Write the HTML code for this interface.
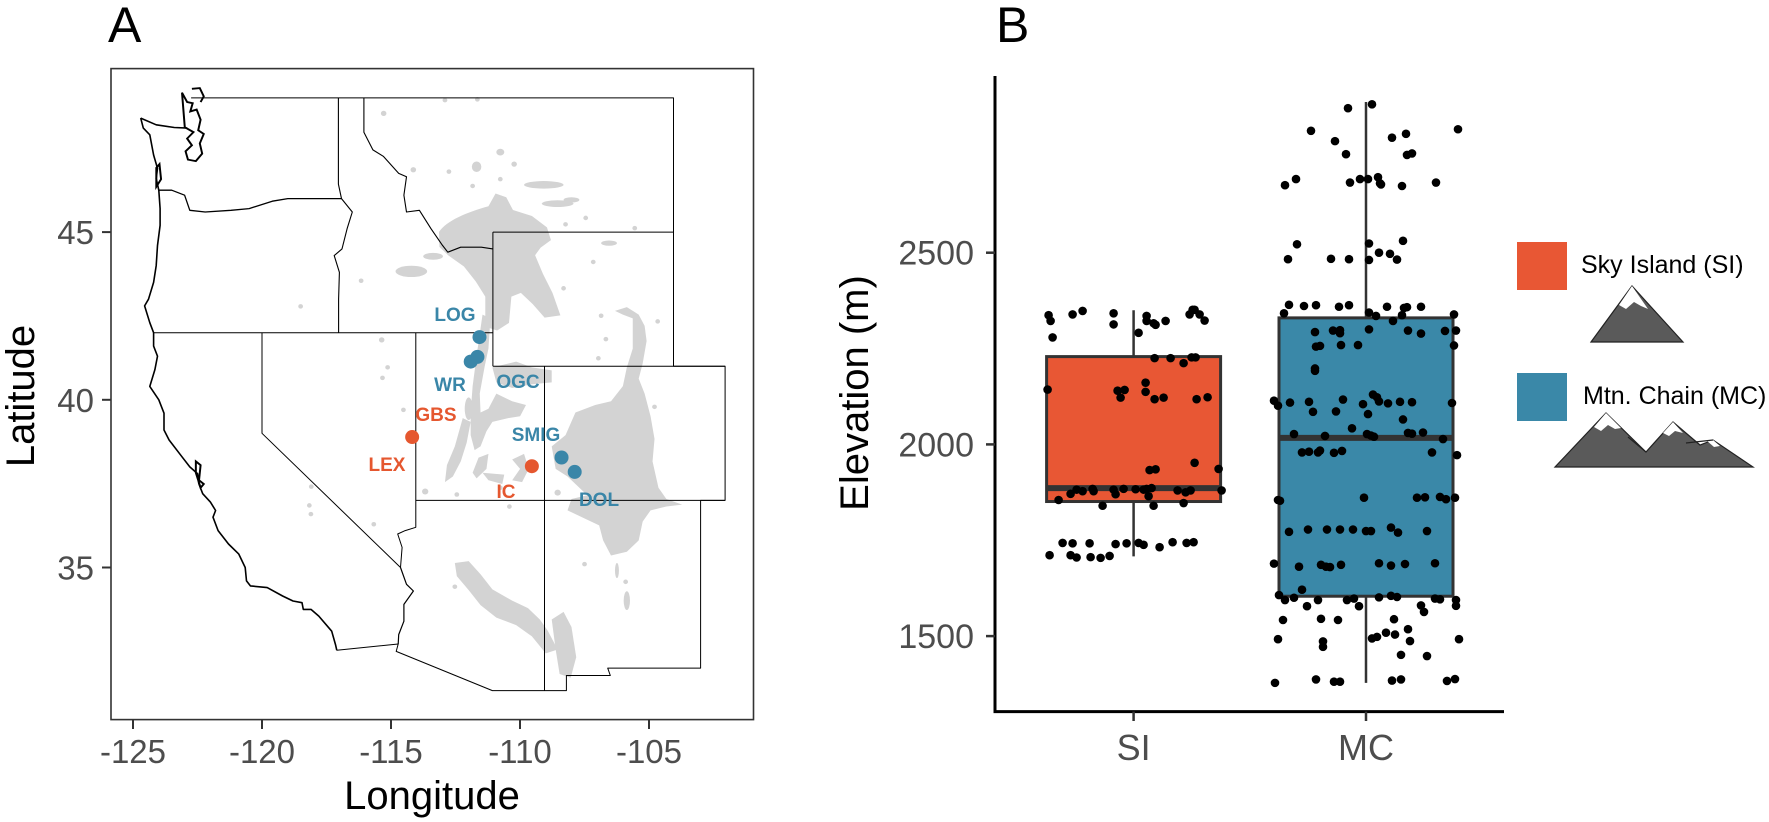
<!DOCTYPE html>
<html><head><meta charset="utf-8">
<style>
html,body{margin:0;padding:0;background:#fff;}
svg{display:block;font-family:"Liberation Sans",Arial,sans-serif;}
</style></head>
<body>
<svg id="fig" width="1769" height="822" viewBox="0 0 1769 822" xmlns="http://www.w3.org/2000/svg">
  <text x="108" y="42" font-size="50" fill="#000">A</text>
  <text x="996" y="42" font-size="50" fill="#000">B</text>

  <g id="mapPanel">
    <clipPath id="mapClip"><rect x="111" y="68.6" width="642.5" height="651"/></clipPath>
    <g clip-path="url(#mapClip)">
      <g id="blobs" fill="#d3d3d3" transform="translate(97,55) scale(0.3954,0.3763)">
        <path d="M865,470 C885,440 935,418 990,402 L1008,368 L1035,378 L1052,412 L1100,428 L1138,458 L1148,492 L1122,512 L1108,532 L1128,582 L1152,632 L1172,692 L1132,698 L1102,662 L1072,632 L1048,642 L1042,712 L1012,732 L982,722 L982,642 L958,602 L928,562 L888,532 L866,510 Z"/>
        <path d="M975,690 L995,700 L990,780 L980,830 L968,900 L970,950 L990,940 L1010,900 L1050,920 L1085,930 L1070,960 L1040,965 L1000,975 L985,1000 L970,1040 L955,1050 L945,1010 L945,950 L950,880 L960,800 Z"/>
        <path d="M1000,830 L1060,815 L1100,830 L1150,838 L1150,870 L1100,875 L1050,885 L1010,870 Z"/>
        <path d="M925,965 L945,975 L935,1030 L920,1080 L900,1120 L880,1135 L885,1090 L905,1040 Z"/>
        <path d="M965,1070 L990,1060 L985,1100 L960,1125 L950,1110 Z"/>
        <path d="M1050,1075 L1080,1060 L1092,1100 L1075,1135 L1050,1130 L1070,1100 Z"/>
        <path d="M975,1110 L1030,1115 L1025,1140 L990,1130 Z"/>
        <path d="M1150,1040 L1185,1010 L1210,950 L1260,930 L1300,920 L1330,880 L1340,830 L1355,780 L1355,700 L1330,690 L1310,680 L1340,670 L1370,690 L1385,720 L1390,760 L1380,820 L1370,860 L1385,900 L1400,960 L1410,1020 L1405,1080 L1420,1150 L1440,1180 L1480,1195 L1440,1200 L1400,1210 L1380,1240 L1370,1290 L1340,1320 L1300,1330 L1280,1290 L1270,1250 L1230,1230 L1190,1210 L1200,1180 L1240,1170 L1220,1150 L1190,1120 L1160,1100 Z"/>
        <path d="M905,1350 L940,1345 L970,1380 L1000,1420 L1050,1450 L1090,1470 L1120,1500 L1140,1530 L1165,1580 L1135,1590 L1100,1545 L1060,1515 L1010,1495 L970,1462 L940,1422 L910,1385 Z"/>
        <path d="M1150,1500 L1180,1480 L1200,1520 L1212,1600 L1198,1655 L1170,1645 L1160,1580 Z"/>
        <ellipse cx="1130" cy="345" rx="50" ry="10"/>
        <ellipse cx="1165" cy="395" rx="40" ry="9"/>
        <ellipse cx="1200" cy="385" rx="20" ry="7"/>
        <ellipse cx="960" cy="297" rx="12" ry="14"/>
        <ellipse cx="1020" cy="258" rx="10" ry="9"/>
        <ellipse cx="1295" cy="500" rx="20" ry="7"/>
        <ellipse cx="795" cy="575" rx="40" ry="15"/>
        <ellipse cx="850" cy="535" rx="25" ry="9"/>
        <ellipse cx="940" cy="940" rx="10" ry="30"/>
        <ellipse cx="1340" cy="1450" rx="8" ry="25"/>
        <ellipse cx="1315" cy="1370" rx="5" ry="20"/>
        <circle cx="725" cy="155" r="7"/><circle cx="800" cy="305" r="7"/><circle cx="1055" cy="290" r="7"/>
        <circle cx="1020" cy="330" r="6"/><circle cx="950" cy="348" r="6"/><circle cx="890" cy="310" r="6"/>
        <circle cx="668" cy="600" r="6"/><circle cx="515" cy="668" r="6"/><circle cx="720" cy="757" r="7"/>
        <circle cx="735" cy="830" r="6"/><circle cx="722" cy="858" r="6"/><circle cx="775" cy="943" r="6"/>
        <circle cx="1180" cy="620" r="6"/><circle cx="1255" cy="550" r="6"/><circle cx="1275" cy="693" r="6"/>
        <circle cx="1418" cy="708" r="6"/><circle cx="1287" cy="755" r="6"/><circle cx="1268" cy="806" r="6"/>
        <circle cx="1410" cy="935" r="6"/><circle cx="1236" cy="433" r="6"/><circle cx="1360" cy="460" r="6"/>
        <circle cx="1185" cy="450" r="6"/><circle cx="542" cy="1147" r="6"/><circle cx="537" cy="1197" r="6"/>
        <circle cx="541" cy="1220" r="6"/><circle cx="700" cy="1247" r="6"/><circle cx="1043" cy="1200" r="6"/>
        <circle cx="905" cy="1413" r="6"/><circle cx="1233" cy="1353" r="6"/><circle cx="1337" cy="1400" r="6"/>
        <circle cx="880" cy="120" r="6"/><circle cx="962" cy="118" r="6"/><circle cx="1020" cy="1150" r="6"/>
        <circle cx="830" cy="1160" r="8"/><circle cx="1165" cy="1163" r="8"/><circle cx="910" cy="1168" r="6"/>
      </g>
      <g id="states" fill="none" stroke="#000"></g>
      <g id="puget" transform="translate(97,55) scale(0.3954,0.3763)" fill="none" stroke="#000" stroke-width="5">
        <path d="M215,100 L228,125 L242,128 L236,150 L252,145 L262,172 L256,200 L270,210 L260,235 L266,262 L250,282 L230,278 L224,256 L240,240 L228,222 L244,205 L222,192 Z"/>
        <path d="M240,90 L260,88 L270,110 L262,125"/>
        <path d="M150,300 L158,290 L162,330 L150,350 Z"/>
        <path d="M250,1080 L262,1090 L258,1130 L270,1140 L262,1150 L250,1110 Z"/>
      </g>
    </g>
    <rect x="111" y="68.6" width="642.5" height="651" fill="none" stroke="#333" stroke-width="1.6"/>
    <g id="mapAxes"></g>
    <g id="sites"></g>
    <g font-weight="bold" font-size="19" text-anchor="middle">
      <text x="455" y="321" fill="#3a86a8">LOG</text>
      <text x="450" y="391" fill="#3a86a8">WR</text>
      <text x="518" y="388" fill="#3a86a8">OGC</text>
      <text x="436" y="421" fill="#e5572f">GBS</text>
      <text x="387" y="471" fill="#e5572f">LEX</text>
      <text x="506" y="498" fill="#e5572f">IC</text>
      <text x="536" y="441" fill="#3a86a8">SMIG</text>
      <text x="599" y="506" fill="#3a86a8">DOL</text>
    </g>
    <text x="432" y="809" font-size="40" text-anchor="middle" fill="#000">Longitude</text>
    <text transform="translate(34,396) rotate(-90)" font-size="40" text-anchor="middle" fill="#000">Latitude</text>
  </g>

  <g id="boxPanel"></g>
  <text transform="translate(868,393) rotate(-90)" font-size="40" text-anchor="middle" fill="#000">Elevation (m)</text>

  <g>
    <rect x="1517" y="242" width="50" height="48" fill="#e85734"/>
    <text x="1581" y="273" font-size="25" fill="#000">Sky Island (SI)</text>
    <g>
      <polygon points="1591,342 1632,286 1683,342" fill="#5a5a5a" stroke="#222" stroke-width="1.2"/>
      <polygon points="1632,286 1619,305 1626,309 1634,302 1641,306 1648,309" fill="#fff"/>
    </g>
    <rect x="1517" y="373" width="50" height="48" fill="#3a88a8"/>
    <text x="1583" y="404" font-size="25" fill="#000">Mtn. Chain (MC)</text>
    <g>
      <polygon points="1555,467 1606,413 1646,452 1673,422 1700,445 1713,440 1753,467" fill="#5a5a5a" stroke="#222" stroke-width="1.2"/>
      <polygon points="1606,413 1594,427 1601,431 1608,425 1615,429 1621,428" fill="#fff"/>
      <polygon points="1673,422 1663,433 1669,436 1675,431 1683,433" fill="#fff"/>
      <polygon points="1706,440 1713,440 1720,446 1714,447" fill="#fff"/>
      <polyline points="1628,437 1646,452" fill="none" stroke="#222" stroke-width="1.2"/>
      <polyline points="1686,443 1713,440" fill="none" stroke="#222" stroke-width="1.2"/>
    </g>
  </g>
</svg>

<script>
const categories = ['SI', 'MC'];
const yTicks = [1500, 2000, 2500];
const siStats = [1708, 1851, 1886, 2229, 2350];
const mcStats = [1378, 1604, 2017, 2330, 2893];
const siValues = [2337,2322,2279,2339,2348,2342,2313,2291,2335,2322,2316,2312,2322,2339,2351,2351,2339,2323,
  2143,2140,2142,2122,2161,2137,2118,2122,2225,2225,2212,2227,2227,2118,2123,
  1933,1935,1952,1936,
  1855,1871,1882,1878,1884,1878,1882,1870,1884,1883,1882,1884,1886,1865,1880,1875,1880,1880,
  1840,1840,1847,
  1711,1743,1742,1711,1705,1742,1706,1704,1709,1740,1742,1743,1738,1732,1745,1743,1745];
const siJitter = [-85,-83,-81,-61,-51,-20,-20,5,13,13,20,22,32,56,59,61,66,71,
  -86,-16,-9,-13,12,12,21,30,21,37,50,58,62,63,74,
  16,22,61,85,
  -75,-63,-57,-51,-41,-40,-20,-18,-10,2,10,13,18,15,44,52,57,88,
  -31,20,50,
  -84,-71,-61,-63,-57,-44,-43,-33,-24,-18,-7,5,10,26,39,53,60];
const mcValues = [2877,2887,2818,2791,2757,2800,2810,2755,2759,2822,
  2676,2692,2683,2692,2692,2697,2681,2678,2674,2683,
  2522,2483,2484,2483,2524,2481,2500,2497,2482,2531,
  2364,2342,2361,2363,2359,2363,2344,2335,2359,2322,2337,2356,2358,2359,2339,
  2293,2297,2298,2290,2300,2297,2289,2296,2297,
  2255,2257,2259,2259,2258,2198,
  2192,2114,2101,2109,2111,2085,2086,2117,2105,2079,2130,2123,2112,2107,2111,2065,2110,2108,
  2027,2022,2042,2027,2023,2020,2030,2028,2031,2014,
  1979,1981,1979,1984,1978,1983,1979,1972,
  1855,1853,1861,1861,1862,1863,1857,1861,
  1772,1778,1778,1778,1778,1774,1774,1783,1770,1774,
  1689,1681,1686,1681,1680,1686,1690,1684,1688,1690,
  1607,1594,1600,1621,1594,1594,1598,1578,1601,1605,1602,1598,1596,1594,1579,
  1578,1580,1563,
  1542,1545,1542,1544,
  1492,1486,1472,1494,1498,1509,1504,1518,1487,1492,
  1451,1448,1378,1387,1381,1381,1384,1387,1383,1388];
const mcJitter = [-18,6,-55,-31,-20,26,40,41,46,92,
  -81,-70,-16,-6,2,12,14,15,36,70,
  -69,-78,-35,-17,3,3,13,24,31,37,
  -77,-82,-62,-50,-27,-17,3,10,21,27,36,38,41,55,88,
  -51,-33,-26,-26,3,42,55,79,90,
  -50,-46,-25,-8,88,-51,
  -51,-92,-88,-76,-57,-53,-30,-23,-3,2,7,11,13,22,34,37,46,86,
  -72,-41,-14,1,5,8,42,46,57,77,
  -64,-57,-48,-46,-32,-24,66,91,
  -88,-86,-2,51,59,74,80,89,
  -77,-58,-39,-26,-13,0,5,25,32,61,
  -92,-67,-45,-40,-36,-25,13,25,39,69,
  -87,-81,-72,-64,-48,-19,-12,-7,13,25,31,69,74,90,90,
  -59,55,58,
  -83,-45,-28,28,
  -88,-43,-43,6,11,20,29,42,44,93,
  35,61,-91,-50,-32,-26,26,35,81,89];

const lonTicks = [-125, -120, -115, -110, -105];
const latTicks = [35, 40, 45];
const siteNames = ['LOG', 'WR', 'WR2', 'GBS', 'IC', 'SMIG', 'DOL'];
const siteLon = [-111.57, -111.91, -111.65, -114.18, -109.54, -108.39, -107.88];
const siteLat = [41.87, 41.14, 41.28, 38.89, 38.02, 38.28, 37.85];
const siteType = ['MC', 'MC', 'MC', 'SI', 'SI', 'MC', 'MC'];

const NS = 'http://www.w3.org/2000/svg';
function mk(tag, attrs, parent) {
  const e = document.createElementNS(NS, tag);
  for (const k in attrs) e.setAttribute(k, attrs[k]);
  parent.appendChild(e);
  return e;
}

const yB = v => 444.4 - (v - 2000) * 0.3834;
const catX = i => 1133.6 + i * 232.4;
const lonX = lon => 133 + (lon + 125) * 25.8;
const latY = lat => 399.8 - (lat - 40) * 33.54;

const borders = [
  {n:'pacific-coast', w:1.6, p:[[-124.7,48.4],[-124.6,48.1],[-124.35,47.9],[-124.2,47.3],[-124.05,46.9],[-124.1,46.6],[-124.0,46.25],[-123.95,45.7],[-123.95,45.2],[-124.05,44.6],[-124.1,44.0],[-124.2,43.5],[-124.4,43.0],[-124.55,42.8],[-124.35,42.3],[-124.2,42.0],[-124.2,41.6],[-124.05,41.3],[-124.15,40.9],[-124.35,40.4],[-124.0,40.0],[-123.8,39.6],[-123.8,39.1],[-123.6,38.8],[-123.1,38.3],[-122.8,38.0],[-122.5,37.8],[-122.45,37.5],[-122.3,37.2],[-122.0,36.95],[-121.8,36.7],[-121.9,36.5],[-121.7,36.1],[-121.3,35.7],[-120.9,35.4],[-120.65,35.0],[-120.6,34.6],[-120.45,34.45],[-119.8,34.4],[-119.2,34.15],[-118.8,34.0],[-118.45,33.95],[-118.4,33.75],[-118.1,33.75],[-117.8,33.55],[-117.3,33.1],[-117.15,32.7],[-117.1,32.53]]},
  {n:'juan-de-fuca-coast', w:1.6, p:[[-124.7,48.4],[-124.1,48.2],[-123.4,48.12],[-122.9,48.1]]},
  {n:'outer-border', w:1, p:[[-122.75,49],[-104.05,49],[-104.05,41],[-102.05,41],[-102.05,37],[-103,37],[-103,32],[-106.6,32],[-106.5,31.78],[-108.2,31.78],[-108.2,31.33],[-111.07,31.33],[-114.8,32.5],[-114.72,32.72],[-117.1,32.53]]},
  {n:'wa-or-border', w:1.3, p:[[-124.0,46.25],[-123.5,46.25],[-123.0,46.1],[-122.8,45.65],[-122.2,45.6],[-121.2,45.65],[-120.5,45.7],[-119.6,45.92],[-119.0,46.0],[-116.92,46.0]]},
  {n:'idaho-west-border', w:1.1, p:[[-117.04,49],[-117.04,46.43],[-116.92,46.0],[-116.5,45.6],[-116.7,45.1],[-116.9,44.5],[-117.2,44.3],[-117.0,43.8],[-117.03,43.0],[-117.03,42]]},
  {n:'lat-42-border', w:1, p:[[-124.2,42],[-111.05,42]]},
  {n:'ca-nv-border', w:1, p:[[-120,42],[-120,39],[-114.63,35.0]]},
  {n:'nv-az-border', w:1, p:[[-114.63,35.0],[-114.57,35.6],[-114.74,36.0],[-114.45,36.1],[-114.04,36.2],[-114.04,42]]},
  {n:'ca-az-border', w:1.2, p:[[-114.63,35.0],[-114.4,34.5],[-114.13,34.3],[-114.5,33.9],[-114.5,33.4],[-114.7,33.0],[-114.72,32.72]]},
  {n:'lat-37-border', w:1, p:[[-114.04,37],[-102.05,37]]},
  {n:'lat-41-border', w:1, p:[[-111.05,41],[-102.05,41]]},
  {n:'lon-109-border', w:1, p:[[-109.05,41],[-109.05,31.33]]},
  {n:'lon-111-border', w:1, p:[[-111.05,45],[-111.05,41]]},
  {n:'wy-mt-border', w:1, p:[[-111.05,45],[-104.05,45]]},
  {n:'id-mt-border', w:1.1, p:[[-116.05,49],[-116.05,47.98],[-115.7,47.45],[-115.3,47.26],[-114.7,46.75],[-114.4,46.65],[-114.5,46.1],[-114.4,45.6],[-113.9,45.65],[-113.45,45.1],[-113.0,44.6],[-112.8,44.4],[-112.3,44.55],[-111.5,44.55],[-111.05,44.5]]}
];
const stG = document.getElementById('states');
borders.forEach(b => {
  const el = mk('polyline', {points: b.p.map(q => lonX(q[0]).toFixed(1) + ',' + latY(q[1]).toFixed(1)).join(' '), 'stroke-width': b.w, 'stroke-linejoin': 'round'}, stG);
  
  
});

const axA = document.getElementById('mapAxes');
lonTicks.forEach(t => {
  const x = lonX(t);
  const tk = mk('line', {x1: x, x2: x, y1: 719.6, y2: 729, stroke: '#333', 'stroke-width': 2}, axA);
  
  
  const tx = mk('text', {x: x, y: 763, 'font-size': 33, 'text-anchor': 'middle', fill: '#4d4d4d'}, axA);
  tx.textContent = t;
  
  
});
latTicks.forEach(t => {
  const y = latY(t);
  const tk = mk('line', {x1: 102, x2: 111, y1: y, y2: y, stroke: '#333', 'stroke-width': 2}, axA);
  
  
  const tx = mk('text', {x: 94, y: y + 12, 'font-size': 33, 'text-anchor': 'end', fill: '#4d4d4d'}, axA);
  tx.textContent = t;
  
  
});

const sG = document.getElementById('sites');
siteNames.forEach((n, i) => {
  const c = mk('circle', {cx: lonX(siteLon[i]), cy: latY(siteLat[i]), r: 7, fill: siteType[i] === 'SI' ? '#e5572f' : '#3a86a8'}, sG);
  
  
});

const bG = document.getElementById('boxPanel');
const fills = ['#e85734', '#3a88a8'];
const statsArr = [siStats, mcStats];
const valsArr = [siValues, mcValues];
const jitArr = [siJitter, mcJitter];
const HW = 87;
statsArr.forEach((s, i) => {
  const cx = catX(i);
  const w = mk('line', {x1: cx, x2: cx, y1: yB(s[4]), y2: yB(s[0]), stroke: '#333', 'stroke-width': 2.5}, bG);
  
  
  const r = mk('rect', {x: cx - HW, y: yB(s[3]), width: 2 * HW, height: yB(s[1]) - yB(s[3]), fill: fills[i], stroke: '#333', 'stroke-width': 3}, bG);
  
  
  const m = mk('line', {x1: cx - HW, x2: cx + HW, y1: yB(s[2]), y2: yB(s[2]), stroke: '#333', 'stroke-width': 6}, bG);
  
  
});
valsArr.forEach((vals, i) => {
  const cx = catX(i);
  vals.forEach((v, k) => {
    const p = mk('circle', {cx: cx + jitArr[i][k], cy: yB(v), r: 4.3, fill: '#000'}, bG);
    
    
  });
});
const ya = mk('line', {x1: 995, x2: 995, y1: 76, y2: 713, stroke: '#000', 'stroke-width': 3}, bG);


const xa = mk('line', {x1: 993.5, x2: 1504, y1: 711.6, y2: 711.6, stroke: '#000', 'stroke-width': 3}, bG);


yTicks.forEach(t => {
  const y = yB(t);
  const tk = mk('line', {x1: 986, x2: 995, y1: y, y2: y, stroke: '#333', 'stroke-width': 2.5}, bG);
  
  
  const tx = mk('text', {x: 974, y: y + 12, 'font-size': 34, 'text-anchor': 'end', fill: '#4d4d4d'}, bG);
  tx.textContent = t;
  
  
});
categories.forEach((c, i) => {
  const x = catX(i);
  const tk = mk('line', {x1: x, x2: x, y1: 711.6, y2: 721, stroke: '#333', 'stroke-width': 2.5}, bG);
  
  
  const tx = mk('text', {x: x, y: 760, 'font-size': 36, 'text-anchor': 'middle', fill: '#4d4d4d'}, bG);
  tx.textContent = c;
  
  
});
</script>
</body></html>
